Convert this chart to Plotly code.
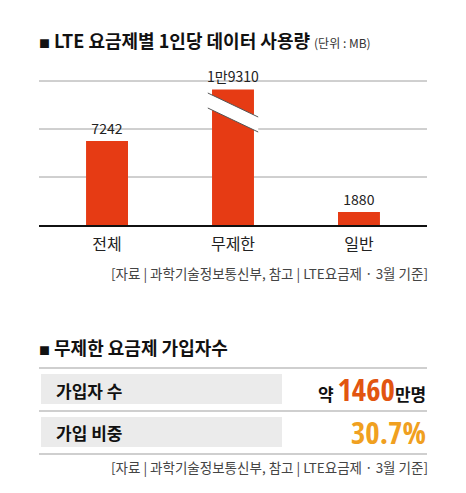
import math
import plotly.graph_objects as go

# LTE plan data usage per person (MB)
plans = ["전체", "무제한", "일반"]
usage_mb = [7242, 19310, 1880]
usage_labels = ["7242", "1만9310", "1880"]

# unlimited plan subscribers
row_labels = ["가입자 수", "가입 비중"]
subscribers_10k = 1460
share_pct = 30.7

source_text = "[자료 | 과학기술정보통신부, 참고 | LTE요금제 · 3월 기준]"

W, H = 466, 493
KR = "Noto Sans CJK KR"
NARROW = "Open Sans Condensed, Roboto, sans-serif"
BAR_RED = "#e63b14"


def px(x):
    return x / W


def py(y):
    return 1 - y / H


fig = go.Figure()

fig.add_trace(go.Bar(
    x=plans,
    y=usage_mb,
    text=usage_labels,
    textposition="outside",
    constraintext="none",
    textfont=dict(family=KR, size=14, color="#222"),
    marker=dict(color=BAR_RED, line=dict(width=0)),
    cliponaxis=False,
    hoverinfo="skip",
))

# bars are not drawn to scale in the original graphic, a log axis gets close
y_lo = math.log10(1468)
y_hi = y_lo + 144 / 121.1

shapes = []
# grid lines (decorative, evenly spaced)
for k in (1, 2, 3):
    shapes.append(dict(type="line", xref="x domain", yref="y domain",
                       x0=0, x1=1, y0=k / 3, y1=k / 3,
                       line=dict(color="#a0a0a0", width=1), layer="below"))

# break mark on the 무제한 bar
bx0, bx1 = 0.8, 1.2
shapes.append(dict(type="path", xref="x", yref="paper",
                   path=f"M {bx0},{py(93)} L {bx1},{py(117)} L {bx1},{py(132)} L {bx0},{py(108)} Z",
                   fillcolor="white", line=dict(width=0), layer="above"))
for ya, yb in ((93, 117), (108, 132)):
    shapes.append(dict(type="line", xref="x", yref="paper",
                       x0=bx0, x1=bx1, y0=py(ya), y1=py(yb),
                       line=dict(color="#555", width=1), layer="above"))

# table lines and boxes
for yl in (368, 411, 454):
    shapes.append(dict(type="line", xref="paper", yref="paper",
                       x0=px(39), x1=px(427), y0=py(yl), y1=py(yl),
                       line=dict(color="#cfcfcf", width=2)))
for y0, y1 in ((374, 404), (417, 447)):
    shapes.append(dict(type="rect", xref="paper", yref="paper",
                       x0=px(41), x1=px(282), y0=py(y1), y1=py(y0),
                       fillcolor="#ebebeb", line=dict(width=0)))

annotations = []


def note(text, x, y, size, color="#111", family=KR, xanchor="left"):
    annotations.append(dict(text=text, x=px(x), y=py(y), xref="paper", yref="paper",
                            xanchor=xanchor, yanchor="middle", showarrow=False,
                            font=dict(family=family, size=size, color=color)))


note("<span style='font-size:11px'>■</span> <b>LTE 요금제별 1인당 데이터 사용량</b> "
     "<span style='font-size:12px;color:#333'>(단위 : MB)</span>",
     37, 40, 18)
note(source_text, 430, 273, 13.5, color="#444", xanchor="right")

note("<span style='font-size:11px'>■</span> <b>무제한 요금제 가입자수</b>", 37, 347, 18)
note("<b>" + row_labels[0] + "</b>", 54, 390, 17)
note("<b>" + row_labels[1] + "</b>", 54, 432, 17)
note(f"<b>약 </b><span style='font-family:{NARROW};font-size:31px;color:#e25510'>"
     f"<b>{subscribers_10k}</b></span><b>만명</b>",
     428, 389, 17, xanchor="right")
note(f"<b>{share_pct}%</b>", 428, 432, 31, color="#f0a020", family=NARROW, xanchor="right")
note(source_text, 430, 467, 13.5, color="#444", xanchor="right")

fig.update_layout(
    width=W,
    height=H,
    margin=dict(l=0, r=0, t=0, b=0),
    paper_bgcolor="white",
    plot_bgcolor="white",
    showlegend=False,
    bargap=0.667,
    shapes=shapes,
    annotations=annotations,
    xaxis=dict(
        domain=[px(39), px(427)],
        range=[-0.54, 2.54],
        showgrid=False,
        showline=True,
        linecolor="#111",
        linewidth=1.5,
        ticks="",
        ticklabelstandoff=4,
        tickfont=dict(family=KR, size=16, color="#222"),
        fixedrange=True,
    ),
    yaxis=dict(
        type="log",
        domain=[py(225), py(81)],
        range=[y_lo, y_hi],
        showgrid=False,
        showticklabels=False,
        zeroline=False,
        fixedrange=True,
    ),
)

fig.write_html("out.html", config={"displayModeBar": False},
               post_script="document.body.style.margin='0';")
